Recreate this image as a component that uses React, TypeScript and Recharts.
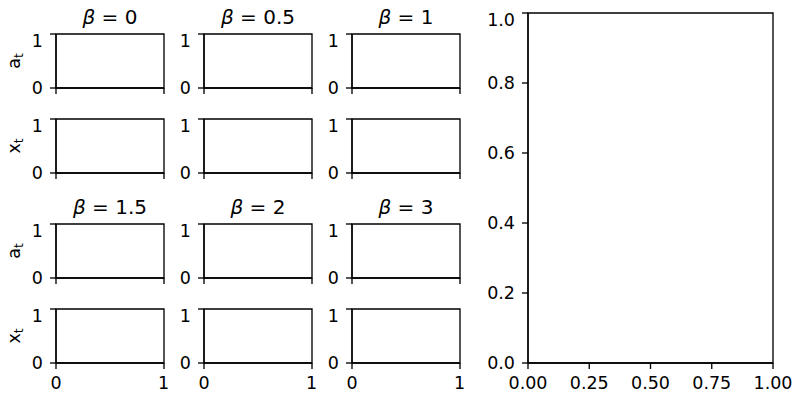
import React from 'react';
import { LineChart, XAxis, YAxis, ReferenceArea } from 'recharts';

// ---- data ----
const betaValues = ['0', '0.5', '1', '1.5', '2', '3'];
const rowVariables = ['a', 'x'];
const smallTicks = [0, 1];
const bigYTicks = [0, 0.2, 0.4, 0.6, 0.8, 1];
const bigXTicks = [0, 0.25, 0.5, 0.75, 1];
const domainData = [{ x: 0 }, { x: 1 }];

// ---- layout ----
const FONT = 'DejaVu Sans, sans-serif';
const TICK_FS = 17.5;
const TITLE_FS = 20;
const LABEL_FS = 17.5;
const colLefts = [56, 204, 352];
const rowTops = [34, 119, 224, 309];
const PW = 108;
const PH = 54;
const YW = 50;
const XH = 34;
const TM = 4;
const RM = 4;
const LINE = 1.33;
const TSIZE = 6;
const YPAD = 7;
const XPAD = 8;

const tickStyle = { fill: '#000', fontSize: TICK_FS, fontFamily: FONT };
const emptyTick = () => <g />;

function SmallAxes({ left, top, showXLabels }: { left: number; top: number; showXLabels: boolean }) {
  return (
    <div style={{ position: 'absolute', left: left - YW, top: top - TM }}>
      <LineChart
        width={YW + PW + RM}
        height={TM + PH + XH}
        data={domainData}
        margin={{ top: TM, right: RM, bottom: 0, left: 0 }}
      >
        <XAxis
          type="number"
          dataKey="x"
          domain={[0, 1]}
          ticks={smallTicks}
          height={XH}
          stroke="#000"
          strokeWidth={LINE}
          tickSize={TSIZE}
          tickMargin={XPAD}
          tick={showXLabels ? tickStyle : emptyTick}
          tickLine={{ stroke: '#000', strokeWidth: LINE }}
          allowDataOverflow
        />
        <YAxis
          type="number"
          domain={[0, 1]}
          ticks={smallTicks}
          width={YW}
          stroke="#000"
          strokeWidth={LINE}
          tickSize={TSIZE}
          tickMargin={YPAD}
          tick={tickStyle}
          tickLine={{ stroke: '#000', strokeWidth: LINE }}
          allowDataOverflow
        />
        <ReferenceArea x1={0} x2={1} y1={0} y2={1} fill="none" stroke="#000" strokeWidth={LINE} ifOverflow="visible" />
      </LineChart>
    </div>
  );
}

const BIG_L = 528;
const BIG_T = 13;
const BIG_W = 245;
const BIG_H = 350;
const BYW = 60;

function BigAxes() {
  return (
    <div style={{ position: 'absolute', left: BIG_L - BYW, top: BIG_T - TM }}>
      <LineChart
        width={BYW + BIG_W + 26}
        height={TM + BIG_H + XH}
        data={domainData}
        margin={{ top: TM, right: 26, bottom: 0, left: 0 }}
      >
        <XAxis
          type="number"
          dataKey="x"
          domain={[0, 1]}
          ticks={bigXTicks}
          height={XH}
          stroke="#000"
          strokeWidth={LINE}
          tickSize={TSIZE}
          tickMargin={XPAD}
          tick={tickStyle}
          tickFormatter={(v: number) => v.toFixed(2)}
          tickLine={{ stroke: '#000', strokeWidth: LINE }}
          allowDataOverflow
        />
        <YAxis
          type="number"
          domain={[0, 1]}
          ticks={bigYTicks}
          width={BYW}
          stroke="#000"
          strokeWidth={LINE}
          tickSize={TSIZE}
          tickMargin={YPAD}
          tick={tickStyle}
          tickFormatter={(v: number) => v.toFixed(1)}
          tickLine={{ stroke: '#000', strokeWidth: LINE }}
          allowDataOverflow
        />
        <ReferenceArea x1={0} x2={1} y1={0} y2={1} fill="none" stroke="#000" strokeWidth={LINE} ifOverflow="visible" />
      </LineChart>
    </div>
  );
}

export default function App() {
  const smalls: React.ReactNode[] = [];
  rowTops.forEach((t, r) => {
    colLefts.forEach((l, c) => {
      smalls.push(<SmallAxes key={`${r}-${c}`} left={l} top={t} showXLabels={r === 3} />);
    });
  });

  return (
    <div style={{ position: 'absolute', left: 0, top: 0, width: 800, height: 400, background: '#fff', fontFamily: FONT }}>
      {smalls}
      <BigAxes />
      <svg
        width={800}
        height={400}
        style={{ position: 'absolute', left: 0, top: 0, pointerEvents: 'none' }}
      >
        {[0, 1].map((block) =>
          colLefts.map((l, c) => (
            <text
              key={`t-${block}-${c}`}
              x={l + PW / 2}
              y={rowTops[block * 2] - 10}
              textAnchor="middle"
              fontFamily={FONT}
              fontSize={TITLE_FS}
              fill="#000"
            >
              <tspan fontStyle="italic">β</tspan>
              <tspan> = {betaValues[block * 3 + c]}</tspan>
            </text>
          ))
        )}
        {rowTops.map((t, r) => (
          <text
            key={`y-${r}`}
            transform={`translate(${19.5}, ${t + PH / 2}) rotate(-90)`}
            textAnchor="middle"
            fontFamily={FONT}
            fontSize={LABEL_FS}
            fill="#000"
          >
            {rowVariables[r % 2]}
            <tspan fontSize={LABEL_FS * 0.7} dy={3}>t</tspan>
          </text>
        ))}
      </svg>
    </div>
  );
}
